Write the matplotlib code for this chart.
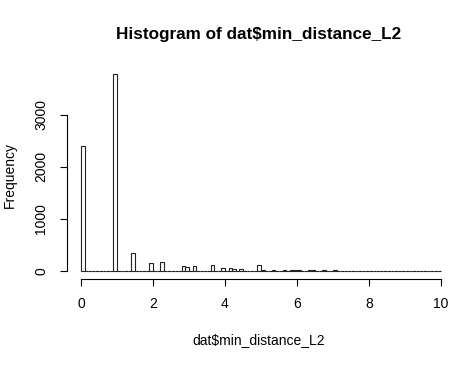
import matplotlib
matplotlib.use("Agg")
import matplotlib.pyplot as plt
import numpy as np

plt.rcParams['font.family'] = ['Liberation Sans', 'DejaVu Sans']

# Histogram bins (width 0.1 from 0 to 10) and counts per bin
bin_width = 0.1
bin_edges = np.round(np.arange(0, 10.0001, bin_width), 2)
counts = [
    2400, 0, 0, 0, 0, 0, 0, 0, 0, 3770,      # 0.0 - 1.0
    0, 0, 0, 0, 350, 0, 0, 0, 0, 160,        # 1.0 - 2.0
    0, 0, 170, 0, 0, 0, 0, 0, 105, 80,       # 2.0 - 3.0
    0, 90, 0, 0, 0, 0, 115, 0, 0, 60,        # 3.0 - 4.0
    0, 60, 40, 0, 45, 0, 0, 0, 0, 115,       # 4.0 - 5.0
    20, 0, 12, 15, 0, 0, 25, 0, 25, 30,      # 5.0 - 6.0
    20, 0, 0, 20, 15, 0, 0, 15, 0, 10,       # 6.0 - 7.0
    15, 0, 10, 0, 10, 0, 10, 0, 8, 0,        # 7.0 - 8.0
    10, 0, 8, 0, 6, 0, 6, 0, 0, 5,           # 8.0 - 9.0
    6, 0, 0, 5, 0, 0, 4, 0, 0, 4,            # 9.0 - 10.0
]
x_ticks = [0, 2, 4, 6, 8, 10]
y_ticks = [0, 1000, 2000, 3000]
title = "Histogram of dat$min_distance_L2"
x_label = "dat$min_distance_L2"
y_label = "Frequency"

fig = plt.figure(figsize=(4.74, 3.74), dpi=100)
ax = fig.add_axes([0.1403, 0.254, 0.961 - 0.1403, 0.822 - 0.254])

ax.bar(bin_edges[:-1], counts, width=bin_width, align='edge',
       facecolor='white', edgecolor='#222222', linewidth=0.8)

ymax = max(counts)
ax.set_xlim(-0.04 * 10, 10 + 0.04 * 10)
ax.set_ylim(-0.04 * ymax, ymax * 1.04)

for s in ['top', 'right']:
    ax.spines[s].set_visible(False)
ax.spines['left'].set_bounds(0, 3000)
ax.spines['bottom'].set_bounds(0, 10)
for s in ['left', 'bottom']:
    ax.spines[s].set_linewidth(0.8)

ax.set_xticks(x_ticks)
ax.set_xticklabels([str(t) for t in x_ticks], fontsize=10)
ax.set_yticks(y_ticks)
ax.set_yticklabels([str(t) for t in y_ticks], fontsize=10, rotation=90, va='center')
ax.tick_params(axis='both', direction='out', length=5, width=0.8, pad=8)

fig.text(259 / 474, 1 - 35 / 374, title, fontsize=12.3,
         fontweight='bold', ha='center', va='center')
fig.text(259 / 474, 1 - 340 / 374, x_label, fontsize=10, ha='center', va='center')
fig.text(10 / 474, 1 - 175 / 374, y_label, fontsize=10, ha='center', va='center', rotation=90)

fig.savefig("out.png", dpi=100)
